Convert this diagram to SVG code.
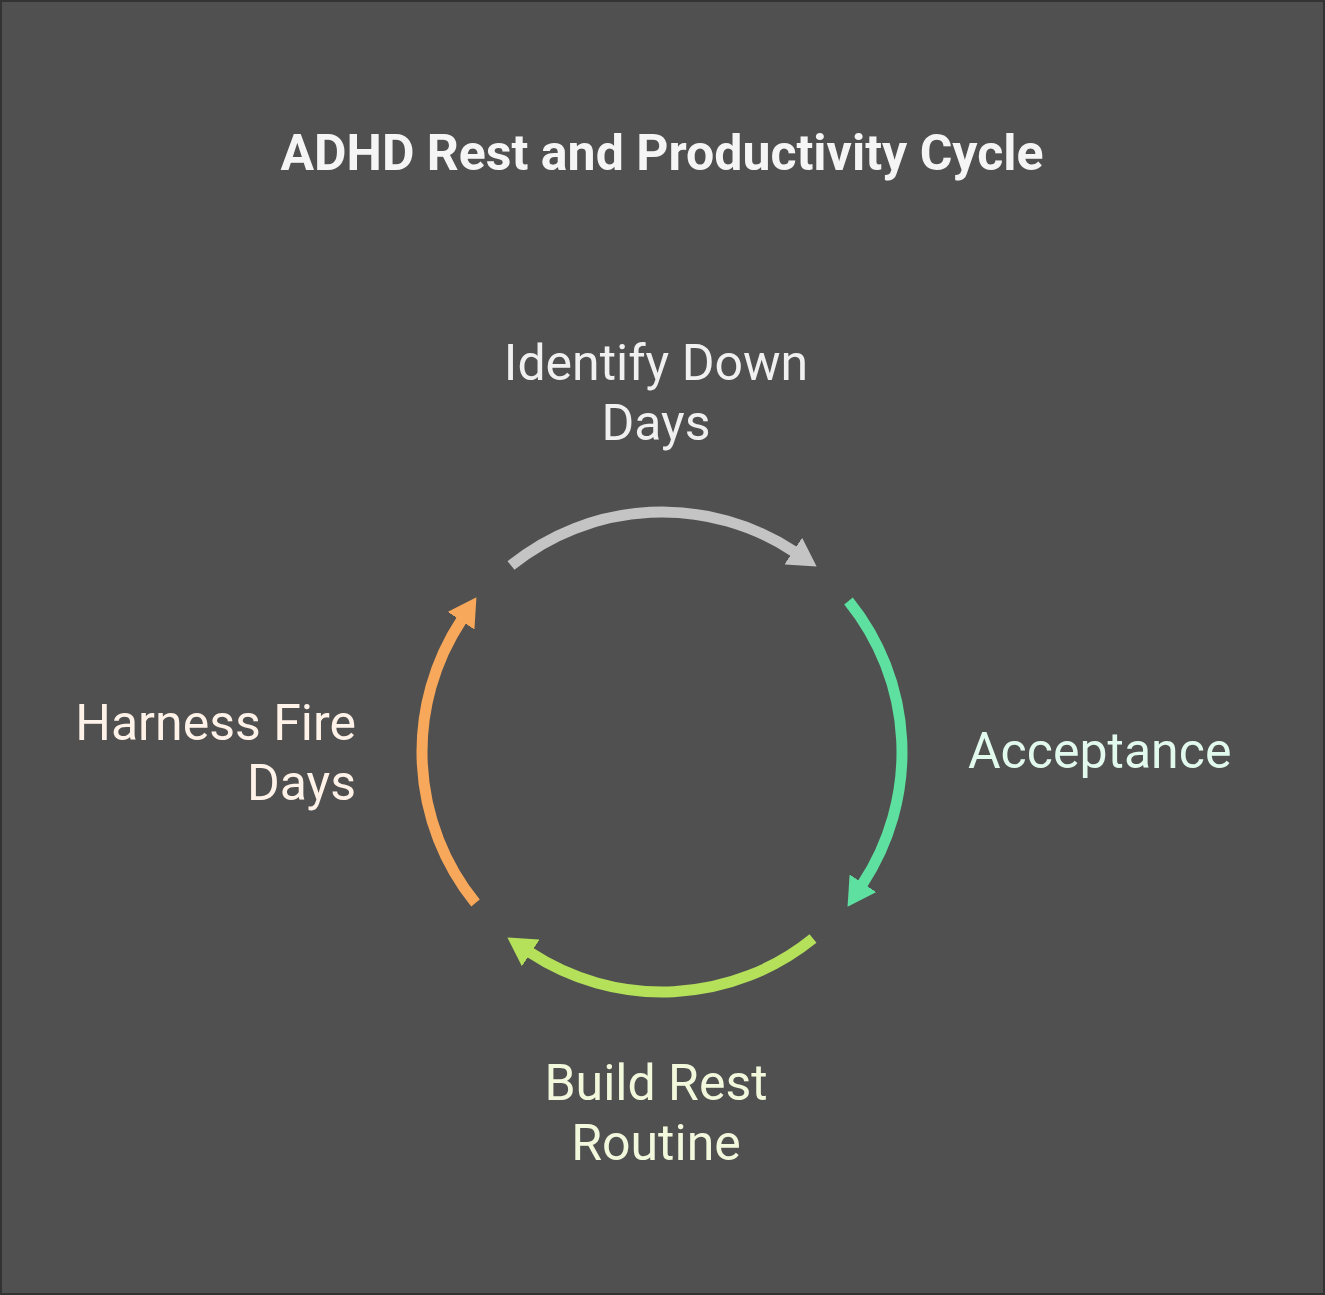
<svg xmlns="http://www.w3.org/2000/svg" width="1325" height="1295" viewBox="0 0 1325 1295">
<style>
.lbl{font-family:Roboto,"Liberation Sans",sans-serif;font-size:50px;}
.arc{fill:none;stroke-width:11;}
</style>
<defs>
<marker id="ahGray" markerUnits="userSpaceOnUse" markerWidth="28" markerHeight="32" viewBox="0 0 28 32" refX="1" refY="16" orient="auto"><path d="M0,0 L28,16 L0,32 z" fill="#C4C4C4"/></marker>
<marker id="ahGreen" markerUnits="userSpaceOnUse" markerWidth="28" markerHeight="32" viewBox="0 0 28 32" refX="1" refY="16" orient="auto"><path d="M0,0 L28,16 L0,32 z" fill="#5EE0A0"/></marker>
<marker id="ahLime" markerUnits="userSpaceOnUse" markerWidth="28" markerHeight="32" viewBox="0 0 28 32" refX="1" refY="16" orient="auto"><path d="M0,0 L28,16 L0,32 z" fill="#B4E05A"/></marker>
<marker id="ahOrange" markerUnits="userSpaceOnUse" markerWidth="28" markerHeight="32" viewBox="0 0 28 32" refX="1" refY="16" orient="auto"><path d="M0,0 L28,16 L0,32 z" fill="#F8A85A"/></marker>
</defs>
<rect x="1" y="1" width="1323" height="1293" fill="#505050" stroke="#333333" stroke-width="2"/>
<text id="title" x="662" y="170" text-anchor="middle" font-family="Roboto,'Liberation Sans',sans-serif" font-weight="bold" font-size="50" fill="#F5F5F5">ADHD Rest and Productivity Cycle</text>
<g id="connectors">
<path class="arc" stroke="#C4C4C4" d="M511.0,565.5 A240,240 0 0 1 794.1,551.6" marker-end="url(#ahGray)"/>
<path class="arc" stroke="#5EE0A0" d="M848.5,601.0 A240,240 0 0 1 862.4,884.1" marker-end="url(#ahGreen)"/>
<path class="arc" stroke="#B4E05A" d="M813.0,938.5 A240,240 0 0 1 529.9,952.4" marker-end="url(#ahLime)"/>
<path class="arc" stroke="#F8A85A" d="M475.5,903.0 A240,240 0 0 1 461.6,619.9" marker-end="url(#ahOrange)"/>
</g>
<g id="node-identify">
<text class="lbl" x="656" y="380" text-anchor="middle" fill="#F0F0F0">Identify Down</text>
<text class="lbl" x="656" y="440" text-anchor="middle" fill="#F0F0F0">Days</text>
</g>
<g id="node-acceptance">
<text class="lbl" x="968" y="768" fill="#E2FAEE">Acceptance</text>
</g>
<g id="node-build">
<text class="lbl" x="656" y="1100" text-anchor="middle" fill="#F2F8DC">Build Rest</text>
<text class="lbl" x="656" y="1160" text-anchor="middle" fill="#F2F8DC">Routine</text>
</g>
<g id="node-harness">
<text class="lbl" x="356" y="740" text-anchor="end" fill="#FFF2E8">Harness Fire</text>
<text class="lbl" x="356" y="800" text-anchor="end" fill="#FFF2E8">Days</text>
</g>
</svg>
